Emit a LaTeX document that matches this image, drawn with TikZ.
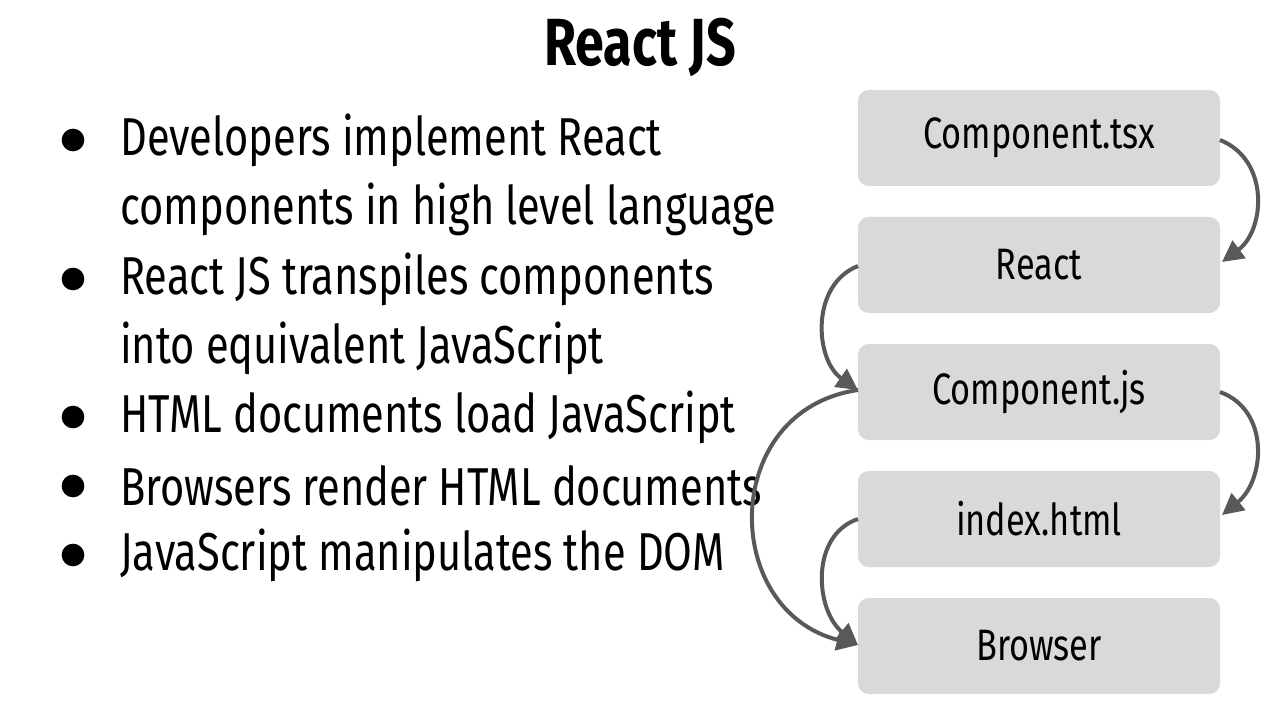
\documentclass[tikz,border=0pt]{standalone}
\usepackage{fontspec}
\setmainfont[FakeStretch=0.78]{Fira Sans}
\usetikzlibrary{arrows.meta}
\begin{document}
\begin{tikzpicture}[x=0.75pt,y=-0.75pt,
  box/.style={fill=boxgray,rounded corners=8pt,minimum width=271.5pt,minimum height=72pt,inner sep=0pt,font=\fontsize{33}{36}\selectfont},
  conn/.style={draw=arrowgray,line width=3pt,-{Triangle[length=16pt,width=16pt]}},
  bul/.style={anchor=west,font=\fontsize{40}{40}\selectfont,inner sep=0pt}]
\definecolor{boxgray}{HTML}{D9D9D9}
\definecolor{arrowgray}{HTML}{595959}
\useasboundingbox[fill=white] (0,0) rectangle (1280,720);
\node (title) at (640,47) {\fontsize{50}{55}\selectfont\bfseries React JS};
\node[box] (b1) at (1039,138) {Component.tsx};
\node[box] (b2) at (1039,265) {React};
\node[box] (b3) at (1039,392) {Component.js};
\node[box] (b4) at (1039,519) {index.html};
\node[box] (b5) at (1039,646) {Browser};
\foreach \t/\y [count=\i] in {{Developers implement React}/140,{components in high level language}/209,{React JS transpiles components}/279,{into equivalent JavaScript}/348,{HTML documents load JavaScript}/417,{Browsers render HTML documents}/486,{JavaScript manipulates the DOM}/555}{
  \node[bul] (l\i) at (120,\y) {\t};}
\foreach \y/\n in {140/1,279/2,417/3,486/4,555/5}{
  \node[circle,fill=black,minimum size=17pt,inner sep=0pt] (d\n) at (73,\y) {};}
\coordinate (b1r) at (1220,140);
\coordinate (b2r) at (1222,262);
\coordinate (b2l) at (858,266);
\coordinate (b3l) at (858,390);
\coordinate (b3r) at (1220,392);
\coordinate (b4r) at (1222,515);
\coordinate (b4l) at (858,519);
\coordinate (b5l) at (858,645);
\draw[conn] (b1r) .. controls (1270,160) and (1265,230) .. (b2r);
\draw[conn] (b2l) .. controls (810,285) and (815,360) .. (b3l);
\draw[conn] (b3l) .. controls (720,410) and (720,610) .. (b5l);
\draw[conn] (b3r) .. controls (1270,410) and (1265,480) .. (b4r);
\draw[conn] (b4l) .. controls (810,535) and (815,610) .. (b5l);
\end{tikzpicture}
\end{document}
